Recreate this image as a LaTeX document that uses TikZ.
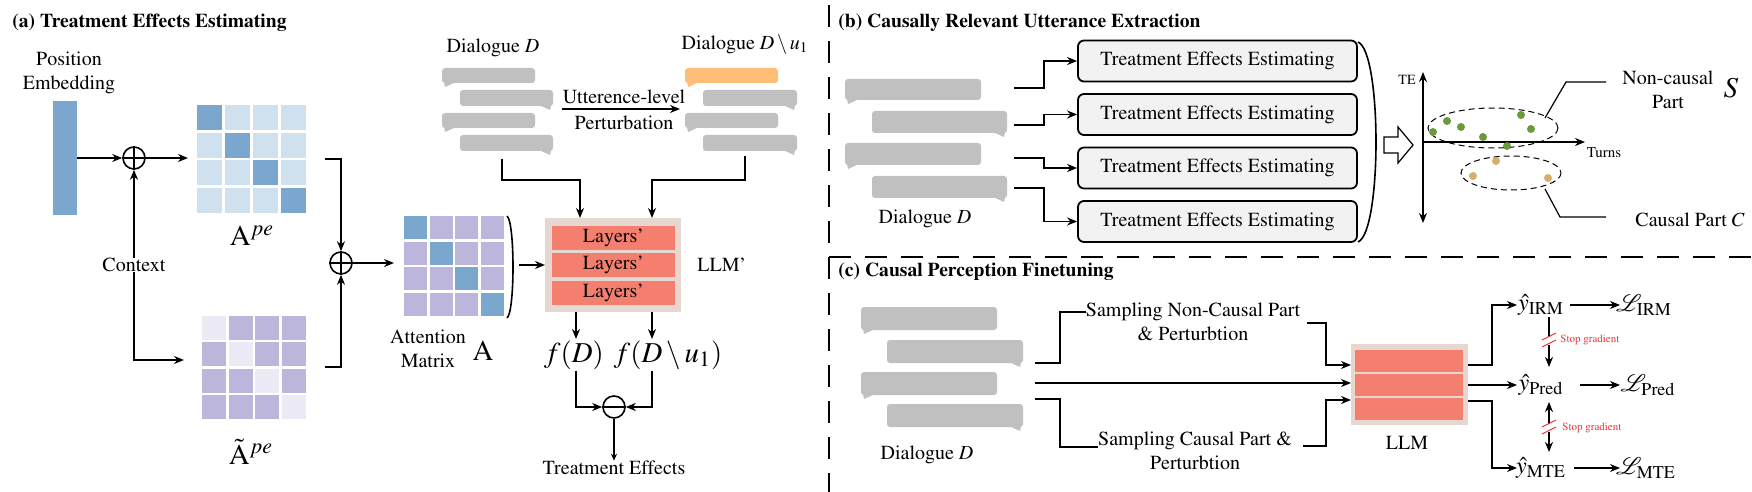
\documentclass[tikz,border=0pt]{standalone}
\usepackage[T1]{fontenc}
\usepackage{mathptmx}
\usetikzlibrary{arrows.meta,calc}
\definecolor{pblue}{HTML}{7BA7CF}
\definecolor{lblue}{HTML}{CFE0EE}
\definecolor{purp}{HTML}{BDB6DC}
\definecolor{lpurp}{HTML}{ECEBF5}
\definecolor{bub}{HTML}{C0C0C0}
\definecolor{orng}{HTML}{FFBE78}
\definecolor{llmbg}{HTML}{E6D8D0}
\definecolor{layer}{HTML}{F47F6F}
\definecolor{gdot}{HTML}{6A9A3A}
\definecolor{tdot}{HTML}{D4B06A}
\definecolor{boxf}{HTML}{F2F2F2}
\definecolor{sred}{HTML}{E8363C}
\tikzset{
 ln/.style={line width=0.8pt},
 ar/.style={ln,-{Stealth[length=5pt,width=4pt]}},
 ars/.style={line width=0.6pt,-{Stealth[length=3.5pt,width=3pt]}},
 circ/.style={circle,draw,line width=0.8pt,minimum size=11pt,inner sep=0pt},
 txt/.style={inner sep=0pt,font=\fontsize{10pt}{12pt}\selectfont,align=center},
 ttl/.style={inner sep=0pt,anchor=west,font=\fontsize{9.8pt}{11pt}\selectfont\bfseries},
 tebox/.style={draw,line width=0.9pt,rounded corners=3pt,fill=boxf,minimum width=139.5pt,minimum height=20.5pt,txt},
 sep/.style={line width=1.4pt,dash pattern=on 11pt off 7pt},
}
\newcommand\bubL[5]{% x1 y1 x2 y2 color ; tail bottom-left
 \fill[#5,rounded corners=1.5pt] (#1,#2) rectangle (#3,#4);
 \fill[#5] (#1+2,#4-1) -- (#1+14,#4-1) -- (#1+3,#4+4) -- cycle;}
\newcommand\bubR[5]{% tail bottom-right
 \fill[#5,rounded corners=1.5pt] (#1,#2) rectangle (#3,#4);
 \fill[#5] (#3-2,#4-1) -- (#3-14,#4-1) -- (#3-3,#4+4) -- cycle;}
\begin{document}
\begin{tikzpicture}[x=0.5pt,y=-0.5pt]
\useasboundingbox (0,0) rectangle (1752,492);
% ================= (a) =================
\node[ttl] (ta) at (12,23) {(a) Treatment Effects Estimating};
\node[txt] (pe) at (69,73) {Position\\Embedding};
\fill[pblue] (53,101) rectangle (77,215);
\coordinate (bar) at (77,158);
\node[circ] (op1) at (134,158) {};
\draw[ln] (op1.north)--(op1.south) (op1.west)--(op1.east);
\draw[ar] (bar) -- (op1);
% A^pe
\foreach \i in {0,...,3}{\foreach \j in {0,...,3}{
  \ifnum\i=\j \def\cc{pblue}\else\def\cc{lblue}\fi
  \fill[\cc] (197+28*\i,105+27.7*\j) rectangle ++(25,25);}}
\coordinate (apeL) at (188,158);
\draw[ar] (op1) -- (apeL);
\node[txt,font=\Large] (ape) at (252,236) {$\mathrm{A}^{pe}$};
% Ã^pe
\foreach \i in {0,...,3}{\foreach \j in {0,...,3}{
  \ifnum\i=\j \def\cc{lpurp}\else\def\cc{purp}\fi
  \fill[\cc] (202+26.6*\i,316+26.4*\j) rectangle ++(24,24);}}
\node[txt,font=\Large] (atpe) at (251,452) {$\tilde{\mathrm{A}}^{pe}$};
\node[txt] (ctx) at (134,265) {Context};
\coordinate (atL) at (184,360);
\draw[ar] (ctx.north) -- (op1);
\draw[ar] (ctx.south) |- (atL);
% oplus 2
\node[circ] (op2) at (341,263) {};
\draw[ln] (op2.north)--(op2.south) (op2.west)--(op2.east);
\coordinate (apeR) at (325,159);
\coordinate (atR) at (325,367);
\draw[ar] (apeR) -| (op2.north);
\draw[ar] (atR) -| (op2.south);
% attention matrix
\foreach \i in {0,...,3}{\foreach \j in {0,...,3}{
  \ifnum\i=\j \def\cc{pblue}\else\def\cc{purp}\fi
  \fill[\cc] (404+25.6*\i,216+25.6*\j) rectangle ++(23,23);}}
\coordinate (attL) at (394,263);
\draw[ar] (op2) -- (attL);
\draw[ln] (507,216) .. controls (515,222) and (515,312) .. (507,318);
\node[txt] (attn) at (428,349) {Attention\\Matrix};
\node[txt,font=\Large] (amat) at (483,351) {$\mathrm{A}$};
% LLM'
\fill[llmbg] (545,218) rectangle (681,312);
\foreach \y/\n in {226/l1,253/l2,281/l3}{
  \fill[layer] (552,\y) rectangle (675,\y+23.5);
  \node[txt] (\n) at (613.5,\y+11.5) {Layers'};}
\node[txt,anchor=west] (llmp) at (697,265) {LLM'};
\coordinate (brR) at (519,265);
\draw[ar] (brR) -- (545,265);
% dialogues
\node[txt] (dD) at (493,48) {Dialogue $D$};
\bubL{442}{68}{535}{83}{bub}
\bubR{460}{90}{553}{106}{bub}
\bubL{442}{113}{535}{128}{bub}
\bubR{460}{135}{553}{151}{bub}
\node[txt] (dDu) at (745,45) {Dialogue $D\setminus u_1$};
\bubL{685}{68}{778}{83}{orng}
\bubR{703}{90}{797}{106}{bub}
\bubL{685}{113}{778}{128}{bub}
\bubR{703}{135}{797}{151}{bub}
\coordinate (pa) at (562,109);
\coordinate (pb) at (680,109);
\draw[ar] (pa) -- (pb);
\node[txt] (utl) at (624,97) {Utterence-level};
\node[txt] (ptb) at (624,123) {Perturbation};
\coordinate (dl) at (502,159);
\coordinate (dr) at (745,156);
\draw[ar] (dl) -- (502,180) -| (580,218);
\draw[ar] (dr) -- (745,180) -| (652,218);
% outputs
\node[txt,font=\Large] (fD) at (574,355) {$f(D)$};
\node[txt,font=\Large] (fDu) at (668,355) {$f(D\setminus u_1)$};
\draw[ar] (576,312) -- (576,339);
\draw[ar] (652,312) -- (652,339);
\node[circ] (om) at (614,407) {};
\draw[ln] (om.west)--(om.east);
\draw[ar] (576,371) |- (om.west);
\draw[ar] (652,371) |- (om.east);
\node[txt] (te) at (614,468) {Treatment Effects};
\draw[ars] (om.south) -- (te.north);
% separators
\draw[sep] (829,5) -- (829,492);
\draw[sep] (829,257) -- (1752,257);
% ================= (b) =================
\node[ttl] (tb) at (838,23) {(b) Causally Relevant Utterance Extraction};
\bubL{845}{79}{981}{100}{bub}
\bubR{872}{111}{1007}{133}{bub}
\bubL{845}{143}{981}{165}{bub}
\bubR{872}{176}{1007}{198}{bub}
\node[txt] (dDb) at (925,219) {Dialogue $D$};
\node[tebox] (b1) at (1217.5,61) {Treatment Effects Estimating};
\node[tebox] (b2) at (1217.5,114.5) {Treatment Effects Estimating};
\node[tebox] (b3) at (1217.5,168) {Treatment Effects Estimating};
\node[tebox] (b4) at (1217.5,221.5) {Treatment Effects Estimating};
\draw[ar] (1014,88) -| (1044,61) -- (b1.west);
\draw[ar] (1014,125) -| (1044,114.5) -- (b2.west);
\draw[ar] (1014,158) -| (1044,168) -- (b3.west);
\draw[ar] (1014,188) -| (1044,221.5) -- (b4.west);
\draw[ln] (1358,42) .. controls (1382,52) and (1382,232) .. (1358,242);
\draw[line width=0.6pt] (1384,137) -- (1398,137) -- (1398,127) -- (1413,145) -- (1398,163) -- (1398,153) -- (1384,153) -- cycle;
% axes
\coordinate (yt) at (1423,72);
\coordinate (yb) at (1423,223);
\coordinate (xr) at (1585,142);
\draw[ln,{Stealth[length=5pt,width=4pt]}-{Stealth[length=5pt,width=4pt]}] (yt) -- (yb);
\draw[ar] (1423,142) -- (xr);
\node[txt,font=\fontsize{7pt}{8pt}\selectfont] (TE) at (1407,80) {TE};
\node[txt,font=\fontsize{7.5pt}{8pt}\selectfont] (turns) at (1604,153) {Turns};
\draw[line width=0.5pt,dash pattern=on 3pt off 2pt] (1493,128) ellipse [x radius=65,y radius=20];
\draw[line width=0.5pt,dash pattern=on 3pt off 2pt] (1511,173) ellipse [x radius=50,y radius=17];
\foreach \p in {(1433,132),(1447,121),(1461,127),(1483,137),(1507,146),(1521,115),(1531,129)}
  \fill[gdot] \p circle (4);
\foreach \p in {(1473,176),(1496,161),(1548,178)}
  \fill[tdot] \p circle (4);
\node[txt] (nc) at (1668,90) {Non-causal\\Part};
\node[txt,font=\Large] (S) at (1731,88) {$S$};
\node[txt] (cp) at (1690,220) {Causal Part $C$};
\coordinate (e1) at (1545,118);
\coordinate (e2) at (1545,189);
\draw[line width=0.6pt] (e1) -- (1566,82) -- (1606,82);
\draw[line width=0.6pt] (e2) -- (1560,217) -- (1606,217);
% ================= (c) =================
\node[ttl] (tc) at (838,272) {(c) Causal Perception Finetuning};
\bubL{861}{307}{997}{330}{bub}
\bubR{887}{340}{1023}{363}{bub}
\bubL{861}{372}{997}{395}{bub}
\bubR{887}{404}{1023}{427}{bub}
\node[txt] (dDc) at (927,455) {Dialogue $D$};
\fill[llmbg] (1351,344) rectangle (1468,425);
\foreach \y/\n in {350/m1,374/m2,398/m3}
  \fill[layer] (1355,\y) rectangle (1463,\y+21.5);
\node[txt] (llm) at (1407,443) {LLM};
\node[txt] (snc) at (1193,322) {Sampling Non-Causal Part\\\& Perturbtion};
\node[txt] (sc) at (1195,451) {Sampling Causal Part \&\\Perturbtion};
\draw[line width=0.6pt] (1035,363) -| (1060,312) -- (snc.west|-0,312);
\draw[ar] (1307,323) -| (1326,365) -- (1351,365);
\draw[ar] (1035,383) -- (1351,383);
\draw[line width=0.6pt] (1035,399) -| (1060,447) -- (sc.west|-0,447);
\draw[ar] (1303,446) -| (1326,400) -- (1351,400);
% outputs
\node[txt,font=\large] (yi) at (1541,305) {$\hat{y}_{\mathrm{IRM}}$};
\node[txt,font=\large] (yp) at (1541,385) {$\hat{y}_{\mathrm{Pred}}$};
\node[txt,font=\large] (ym) at (1541,468) {$\hat{y}_{\mathrm{MTE}}$};
\node[txt,font=\large] (li) at (1644,305) {$\mathcal{L}_{\mathrm{IRM}}$};
\node[txt,font=\large] (lp) at (1648,385) {$\mathcal{L}_{\mathrm{Pred}}$};
\node[txt,font=\large] (lm) at (1646,468) {$\mathcal{L}_{\mathrm{MTE}}$};
\draw[ar] (1468,365) -| (1492,305) -- (1517,305);
\draw[ar] (1468,385) -- (1517,385);
\draw[ar] (1468,401) -| (1492,468) -- (1517,468);
\draw[ar] (1570,305) -- (1620,305);
\draw[ar] (1580,385) -- (1620,385);
\draw[ar] (1574,468) -- (1620,468);
% stop gradients
\draw[ar] (1549,317) -- (1549,367);
\draw[ln,{Stealth[length=5pt,width=4pt]}-{Stealth[length=5pt,width=4pt]}] (1549,402) -- (1549,452);
\fill[white] (1545,337) rectangle (1553,345);
\fill[white] (1545,424) rectangle (1553,432);
\draw[sred,line width=0.5pt] (1542,340) -- (1556,333) (1542,347) -- (1556,340);
\draw[sred,line width=0.5pt] (1542,427) -- (1556,420) (1542,434) -- (1556,427);
\node[txt,anchor=west,text=sred,font=\fontsize{5.5pt}{6pt}\selectfont] (sg1) at (1560,340) {Stop gradient};
\node[txt,anchor=west,text=sred,font=\fontsize{5.5pt}{6pt}\selectfont] (sg2) at (1562,428) {Stop gradient};
\end{tikzpicture}
\end{document}
